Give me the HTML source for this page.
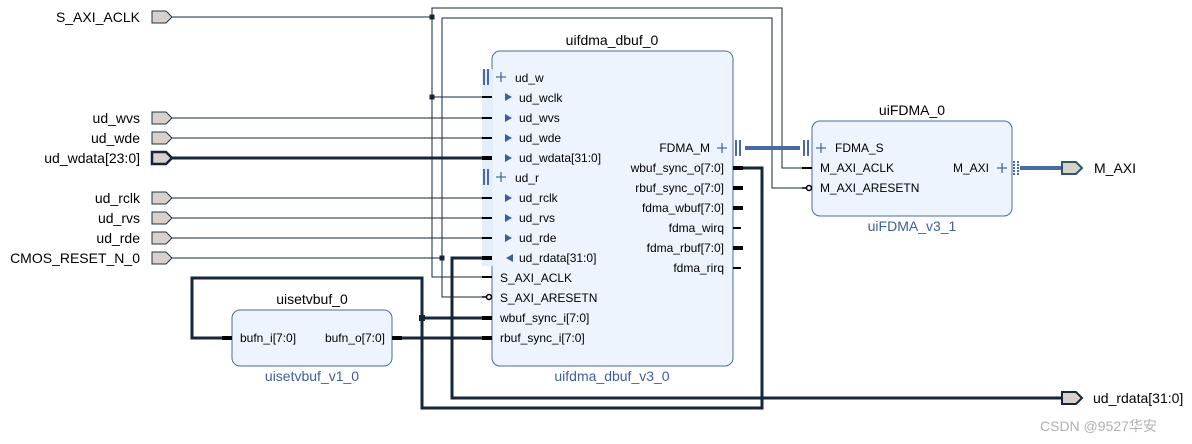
<!DOCTYPE html>
<html><head><meta charset="utf-8"><style>
html,body{margin:0;padding:0;background:#fff}
svg{display:block}
text{font-family:"Liberation Sans","Noto Sans CJK SC",sans-serif;font-size:14px;fill:#000}
.s{font-size:12px}
.b{fill:#3d5fa0}
</style></head><body>
<svg width="1192" height="444" viewBox="0 0 1192 444">
<rect x="492" y="51" width="241" height="315" rx="8" fill="#edf4fd" stroke="#4a6aa6" stroke-width="1"/>
<rect x="482" y="69" width="11" height="197" fill="#e4eefb"/>
<rect x="812" y="121" width="200" height="95" rx="8" fill="#edf4fd" stroke="#4a6aa6"/>
<rect x="232" y="310" width="160" height="56" rx="8" fill="#edf4fd" stroke="#4a6aa6"/>
<text x="612" y="45" text-anchor="middle">uifdma_dbuf_0</text>
<text x="612" y="381" text-anchor="middle" class="b">uifdma_dbuf_v3_0</text>
<text x="912" y="115" text-anchor="middle">uiFDMA_0</text>
<text x="912" y="231" text-anchor="middle" class="b">uiFDMA_v3_1</text>
<text x="312" y="304" text-anchor="middle">uisetvbuf_0</text>
<text x="312" y="381" text-anchor="middle" class="b">uisetvbuf_v1_0</text>

<g stroke="#15263a" stroke-width="1" fill="none">
<path d="M172 17H432M432 17V277H482M432 97H482M432 17V8H782V168H812"/>
<path d="M442 18H772V188H812M442 18V297H482M172 258H442"/>
<path d="M172 118H482M172 138H482M172 198H482M172 218H482M172 238H482"/>
</g>
<g stroke="#15263a" stroke-width="3" fill="none">
<path d="M172 158H482"/>
<path d="M735 168H762V408H422V278H192V338H226"/>
<path d="M422 318H482"/>
<path d="M398 338H482"/>
<path d="M482 258H452V398H1062"/>
</g>
<rect x="419" y="315" width="6" height="6" fill="#15263a"/>
<g fill="#15263a">
<rect x="429.5" y="14.5" width="5" height="5"/><rect x="429.5" y="94.5" width="5" height="5"/>
<rect x="439.5" y="255.5" width="5" height="5"/>
</g>
<path d="M745 148H800" stroke="#4a6aa6" stroke-width="4"/>
<path d="M1020 168H1062" stroke="#4a6aa6" stroke-width="4"/>
<g stroke="#4a6aa6" stroke-width="2">
<path d="M484 69V85M488 69V85M484 169V185M488 169V185"/>
<path d="M736 140V156M740 140V156M804 140V156M808 140V156"/>
</g>
<path d="M1014 161V176M1018 161V176" stroke="#4a6aa6" stroke-width="2" stroke-dasharray="2,1"/>
<g stroke="#4a6aa6" stroke-width="1.3">
<path d="M496 77h10M501 72v10M496 177h10M501 172v10M717 148h10M722 143v10M816 148h10M821 143v10M997 168h10M1002 163v10"/>
</g>
<g stroke="#000" stroke-width="2">
<path d="M482 97h10M482 118h10M482 138h10M482 198h10M482 218h10M482 238h10M482 277h10"/>
<path d="M802 168h10"/>
</g>
<g stroke="#000" stroke-width="4">
<path d="M482 158h10M482 258h10M482 318h10M482 338h10M733 168h10M733 188h10M733 208h10M733 248h10M222 338h10M392 338h10"/>
</g>
<g stroke="#000" stroke-width="2"><path d="M733 228h8M733 268h8"/></g>
<g stroke="#000" stroke-width="1.5" fill="#fff">
<path d="M482 297h5M802 188h5"/><circle cx="489" cy="297" r="2.5"/><circle cx="809" cy="188" r="2.5"/>
</g>
<g fill="#3d5fa0">
<path d="M505 93l7 4-7 4zM505 114l7 4-7 4zM505 134l7 4-7 4zM505 154l7 4-7 4zM505 194l7 4-7 4zM505 214l7 4-7 4zM505 234l7 4-7 4zM513 254l-7 4 7 4z"/>
</g>
<g>
<text x="515" y="82" class="s">ud_w</text>
<text x="519" y="102" class="s">ud_wclk</text>
<text x="519" y="122" class="s">ud_wvs</text>
<text x="519" y="142" class="s">ud_wde</text>
<text x="519" y="162" class="s">ud_wdata[31:0]</text>
<text x="515" y="182" class="s">ud_r</text>
<text x="519" y="202" class="s">ud_rclk</text>
<text x="519" y="222" class="s">ud_rvs</text>
<text x="519" y="242" class="s">ud_rde</text>
<text x="519" y="262" class="s">ud_rdata[31:0]</text>
<text x="500" y="282" class="s">S_AXI_ACLK</text>
<text x="500" y="302" class="s">S_AXI_ARESETN</text>
<text x="500" y="322" class="s">wbuf_sync_i[7:0]</text>
<text x="500" y="342" class="s">rbuf_sync_i[7:0]</text>
<text x="710" y="152" text-anchor="end" class="s">FDMA_M</text>
<text x="724" y="172" text-anchor="end" class="s">wbuf_sync_o[7:0]</text>
<text x="724" y="192" text-anchor="end" class="s">rbuf_sync_o[7:0]</text>
<text x="724" y="212" text-anchor="end" class="s">fdma_wbuf[7:0]</text>
<text x="724" y="232" text-anchor="end" class="s">fdma_wirq</text>
<text x="724" y="252" text-anchor="end" class="s">fdma_rbuf[7:0]</text>
<text x="724" y="272" text-anchor="end" class="s">fdma_rirq</text>
<text x="835" y="152" class="s">FDMA_S</text>
<text x="820" y="172" class="s">M_AXI_ACLK</text>
<text x="820" y="192" class="s">M_AXI_ARESETN</text>
<text x="989" y="172" text-anchor="end" class="s">M_AXI</text>
<text x="240" y="342" class="s">bufn_i[7:0]</text>
<text x="385" y="342" text-anchor="end" class="s">bufn_o[7:0]</text>
</g>
<g fill="#d9d0cb" stroke="#1e3448" stroke-width="1">
<path d="M152 11h14l6 6-6 6h-14z"/>
<path d="M152 112h14l6 6-6 6h-14z"/>
<path d="M152 132h14l6 6-6 6h-14z"/>
<path d="M152 192h14l6 6-6 6h-14z"/>
<path d="M152 212h14l6 6-6 6h-14z"/>
<path d="M152 232h14l6 6-6 6h-14z"/>
<path d="M152 252h14l6 6-6 6h-14z"/>
</g>
<path d="M152 152h14l6 6-6 6h-14z" fill="#d9d0cb" stroke="#15263a" stroke-width="2.5"/>
<path d="M1062 392h14l6 6-6 6h-14z" fill="#d9d0cb" stroke="#15263a" stroke-width="2"/>
<path d="M1062 162h14l6 6-6 6h-14z" fill="#d9d0cb" stroke="#2a5a6a" stroke-width="2"/>
<text x="140" y="22" text-anchor="end">S_AXI_ACLK</text>
<text x="140" y="123" text-anchor="end">ud_wvs</text>
<text x="140" y="143" text-anchor="end">ud_wde</text>
<text x="140" y="163" text-anchor="end">ud_wdata[23:0]</text>
<text x="140" y="203" text-anchor="end">ud_rclk</text>
<text x="140" y="223" text-anchor="end">ud_rvs</text>
<text x="140" y="243" text-anchor="end">ud_rde</text>
<text x="140" y="263" text-anchor="end">CMOS_RESET_N_0</text>
<text x="1094" y="173">M_AXI</text>
<text x="1093" y="403">ud_rdata[31:0]</text>
<text x="1040" y="431" style="fill:#b0b0b0;font-size:14px">CSDN @9527华安</text>
</svg>
</body></html>
